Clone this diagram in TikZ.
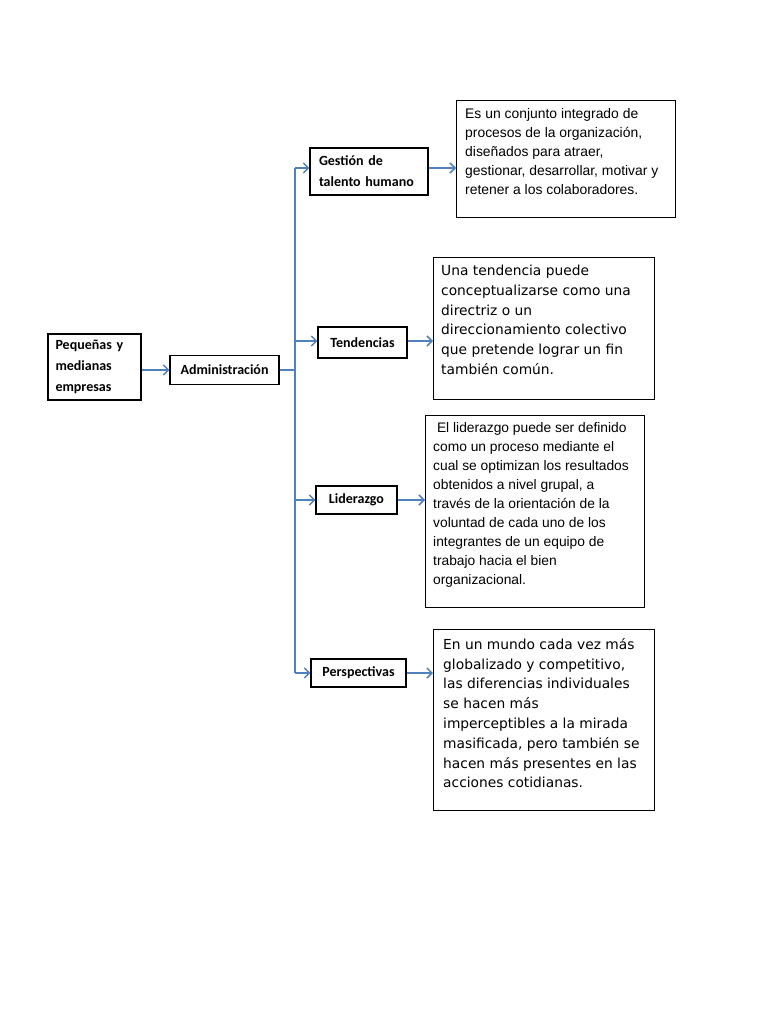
\documentclass[tikz,border=0pt]{standalone}
\usepackage{fontspec}
\setmainfont{Liberation Sans}
\newfontfamily\calfont{Carlito}
\newfontfamily\dvfont{DejaVu Sans}
\usetikzlibrary{arrows.meta}
\definecolor{arrblue}{RGB}{79,129,189}
\begin{document}
\begin{tikzpicture}[x=1pt,y=-1pt,
  lbl/.style={draw=black, line width=1.1pt, inner sep=0pt, font=\calfont\bfseries\fontsize{14}{21}\selectfont},
  desc/.style={draw=black, line width=1.1pt, inner sep=0pt, anchor=north west},
  dtxt/.style={inner sep=0pt, anchor=north west, align=left},
  arr/.style={draw=arrblue, line width=1.5pt, -{Straight Barb[length=5pt,width=10pt]}},
  ln/.style={draw=arrblue, line width=1.5pt}]
\useasboundingbox (0,0) rectangle (768,1024);
\fill[white] (0,0) rectangle (768,1024);

% left boxes
\node[lbl, minimum width=93pt, minimum height=66pt, text width=78pt, align=left] (pym) at (94.5,367) {Pequeñas y\\medianas\\empresas};
\node[lbl, minimum width=109pt, minimum height=29pt] (adm) at (224.5,370) {Administración};
\node[lbl, minimum width=118pt, minimum height=47pt, text width=100pt, align=left] (gth) at (369,171.5) {Gestión de\\talento humano};
\node[lbl, minimum width=89pt, minimum height=31pt] (ten) at (362.5,342.5) {Tendencias};
\node[lbl, minimum width=81pt, minimum height=28pt] (lid) at (356.5,500) {Liderazgo};
\node[lbl, minimum width=95pt, minimum height=28pt] (per) at (358.5,673) {Perspectivas};

% description boxes
\node[desc, minimum width=219pt, minimum height=117pt] (d1) at (456,100) {};
\node[desc, minimum width=221pt, minimum height=142pt] (d2) at (433,257) {};
\node[desc, minimum width=219pt, minimum height=192pt] (d3) at (425,415) {};
\node[desc, minimum width=221pt, minimum height=181pt] (d4) at (433,629) {};

\node[dtxt, font=\fontsize{13.9}{19}\selectfont] (t1) at (465,108) {Es un conjunto integrado de\\procesos de la organización,\\diseñados para atraer,\\gestionar, desarrollar, motivar y\\retener a los colaboradores.};
\node[dtxt, font=\dvfont\fontsize{13.8}{19.7}\selectfont] (t2) at (441,265) {Una tendencia puede\\conceptualizarse como una\\directriz o un\\direccionamiento colectivo\\que pretende lograr un fin\\también común.};
\node[dtxt, font=\fontsize{13.8}{19}\selectfont] (t3) at (433,422) {\ El liderazgo puede ser definido\\como un proceso mediante el\\cual se optimizan los resultados\\obtenidos a nivel grupal, a\\través de la orientación de la\\voluntad de cada uno de los\\integrantes de un equipo de\\trabajo hacia el bien\\organizacional.};
\node[dtxt, font=\dvfont\fontsize{13.8}{19.8}\selectfont] (t4) at (443,638) {En un mundo cada vez más\\globalizado y competitivo,\\las diferencias individuales\\se hacen más\\imperceptibles a la mirada\\masificada, pero también se\\hacen más presentes en las\\acciones cotidianas.};

% connectors
\coordinate (j) at (295,370);
\coordinate (c1) at (295,168);
\coordinate (c2) at (295,341);
\coordinate (c3) at (295,500);
\coordinate (c4) at (295,673);
\draw[arr] (pym.east |- adm.west) -- (adm.west);
\draw[ln] (adm.east) -- (j);
\draw[ln] (c1) -- (c4);
\draw[arr] (c1) -- (c1 -| gth.west);
\draw[arr] (c2) -- (c2 -| ten.west);
\draw[arr] (c3) -- (c3 -| lid.west);
\draw[arr] (c4) -- (c4 -| per.west);
\draw[arr] (gth.east |- c1) -- (d1.west |- c1);
\draw[arr] (ten.east |- c2) -- (d2.west |- c2);
\draw[arr] (lid.east) -- (d3.west |- lid.east);
\draw[arr] (per.east) -- (d4.west |- per.east);
\end{tikzpicture}
\end{document}
